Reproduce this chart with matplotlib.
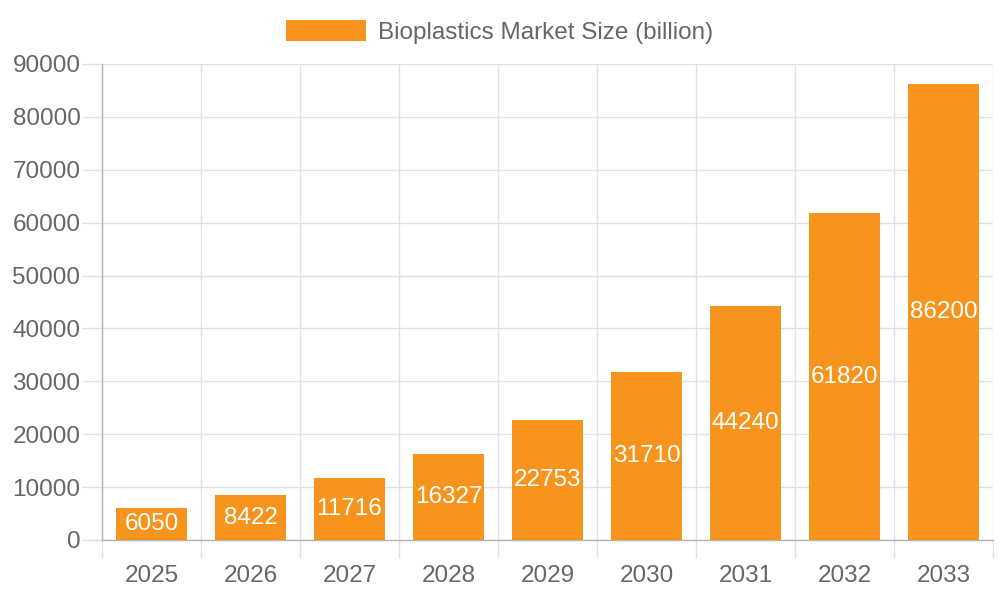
import matplotlib
matplotlib.use("Agg")
import matplotlib.pyplot as plt
import numpy as np

years = ["2025", "2026", "2027", "2028", "2029", "2030", "2031", "2032", "2033"]
market_size = [6050, 8422, 11716, 16327, 22753, 31710, 44240, 61820, 86200]
series_label = "Bioplastics Market Size (billion)"
y_ticks = [0, 10000, 20000, 30000, 40000, 50000, 60000, 70000, 80000, 90000]

plt.rcParams['font.family'] = ['Liberation Sans', 'DejaVu Sans']
BAR = '#F7941D'
TXT = '#666666'
GRID = '#e1e1e1'
AXIS = '#b3b3b3'
FS = 17.5

fig = plt.figure(figsize=(10, 6), dpi=100)
ax = fig.add_axes([0.102, 0.1, 0.891, 476/600])

x = np.arange(len(years))
bars = ax.bar(x, market_size, width=0.72, color=BAR, label=series_label, zorder=3)
for b, v in zip(bars, market_size):
    ax.text(b.get_x() + b.get_width()/2, v/2, str(v), ha='center', va='center',
            color='white', fontsize=FS, zorder=4)

ax.set_xlim(-0.5, len(years) - 0.5)
ax.set_ylim(0, 90000)
ax.set_yticks(y_ticks)
ax.set_yticklabels([str(t) for t in y_ticks])
ax.set_xticks(x)
ax.set_xticklabels(years)
ax.set_xticks(np.arange(len(years) + 1) - 0.5, minor=True)

ax.grid(axis='y', color=GRID, linewidth=1, zorder=0)
ax.grid(axis='x', which='minor', color=GRID, linewidth=1, zorder=0)
ax.tick_params(axis='x', which='major', length=0, labelsize=FS, labelcolor=TXT, pad=18)
ax.tick_params(axis='x', which='minor', length=13, color=GRID, width=1)
ax.tick_params(axis='y', length=14.5, color=GRID, width=1, labelsize=FS, labelcolor=TXT, pad=1)

for s in ['top', 'right']:
    ax.spines[s].set_visible(False)
for s in ['left', 'bottom']:
    ax.spines[s].set_color(AXIS)
    ax.spines[s].set_linewidth(1)

fs_px = FS * 100 / 72
fig.legend(loc='center', bbox_to_anchor=(0.5, 1 - 32/600), frameon=False,
           fontsize=FS, labelcolor=TXT, handlelength=80/fs_px, handleheight=23/fs_px,
           handletextpad=12/fs_px, borderaxespad=0)

fig.savefig("out.png", dpi=100)
